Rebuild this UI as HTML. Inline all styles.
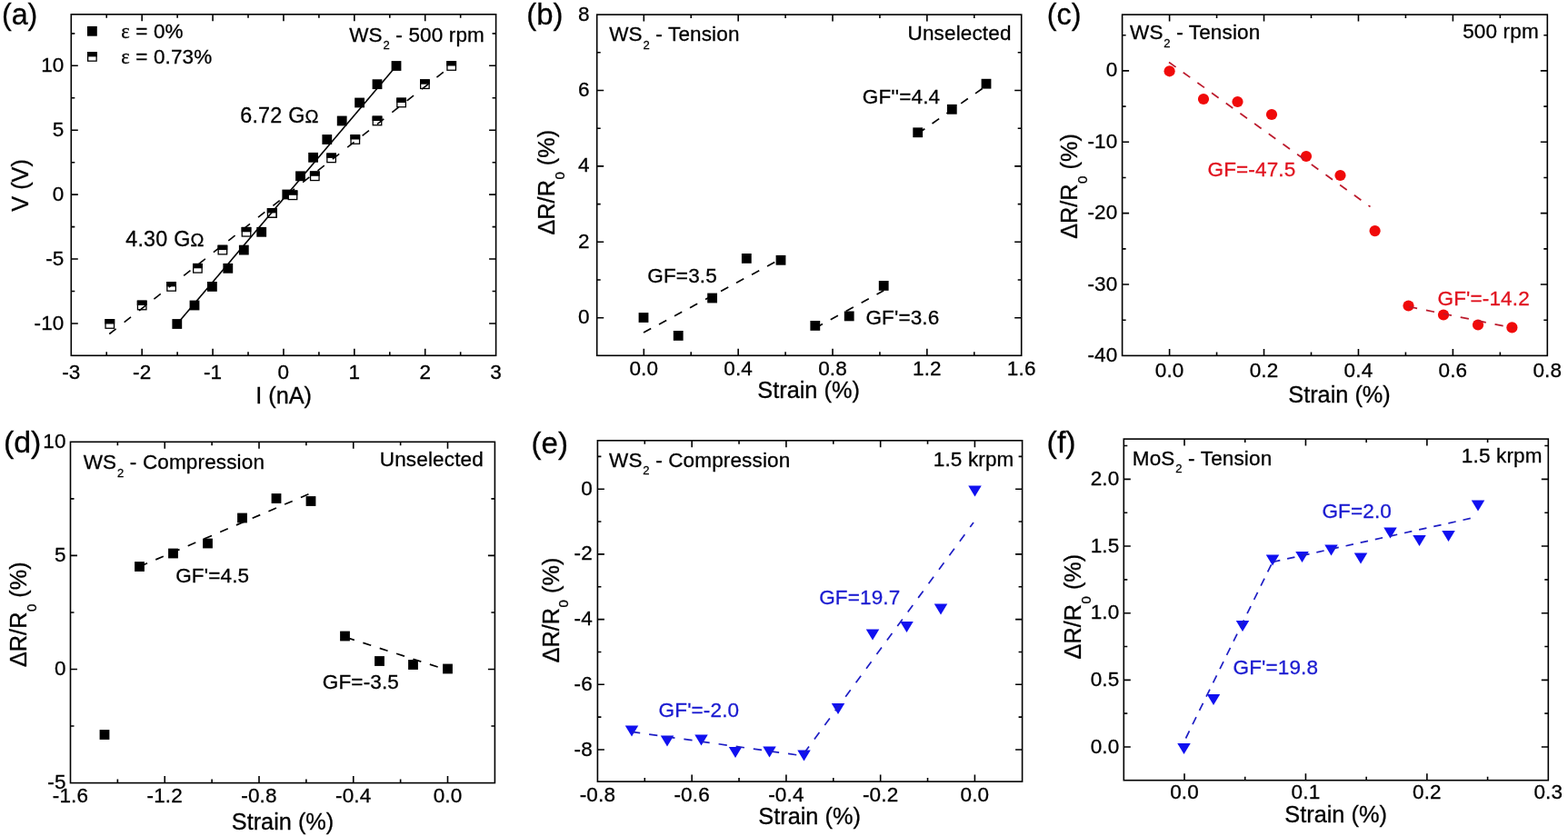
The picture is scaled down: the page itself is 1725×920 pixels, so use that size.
<!DOCTYPE html>
<html><head><meta charset="utf-8"><title>Figure</title>
<style>
html,body{margin:0;padding:0;background:#fff;}
body{width:1725px;height:920px;overflow:hidden;}
svg{display:block;}
text{font-family:"Liberation Sans",Arial,sans-serif;fill:#000;stroke:#000;stroke-width:0.3px;}
.t{letter-spacing:0.15px;}
.t{font-size:22.5px;}
.tt{font-size:25.3px;}
.pl{font-size:34px;}
.sb{font-size:13px;}
.sy{font-size:15px;}
.eps{font-family:"Liberation Serif","DejaVu Serif",serif;}
</style></head>
<body>
<svg width="1725" height="920" viewBox="0 0 1725 920">
<rect width="1725" height="920" fill="#fff"/>
<path d="M156.18 391.3v-7.5M156.18 15.8v7.5M234.07 391.3v-7.5M234.07 15.8v7.5M311.95 391.3v-7.5M311.95 15.8v7.5M389.83 391.3v-7.5M389.83 15.8v7.5M467.72 391.3v-7.5M467.72 15.8v7.5M117.24 391.3v-4M117.24 15.8v4M195.13 391.3v-4M195.13 15.8v4M273.01 391.3v-4M273.01 15.8v4M350.89 391.3v-4M350.89 15.8v4M428.78 391.3v-4M428.78 15.8v4M506.66 391.3v-4M506.66 15.8v4M78.3 356h7.5M545.6 356h-7.5M78.3 285.07h7.5M545.6 285.07h-7.5M78.3 214.15h7.5M545.6 214.15h-7.5M78.3 143.22h7.5M545.6 143.22h-7.5M78.3 72.3h7.5M545.6 72.3h-7.5M78.3 320.54h4M545.6 320.54h-4M78.3 249.61h4M545.6 249.61h-4M78.3 178.69h4M545.6 178.69h-4M78.3 107.76h4M545.6 107.76h-4M78.3 36.84h4M545.6 36.84h-4" stroke="#000" stroke-width="1.6" fill="none"/>
<rect x="78.3" y="15.8" width="467.3" height="375.5" fill="none" stroke="#000" stroke-width="1.6"/>
<text x="78.3" y="417" text-anchor="middle" class="t">-3</text>
<text x="156.18" y="417" text-anchor="middle" class="t">-2</text>
<text x="234.07" y="417" text-anchor="middle" class="t">-1</text>
<text x="311.95" y="417" text-anchor="middle" class="t">0</text>
<text x="389.83" y="417" text-anchor="middle" class="t">1</text>
<text x="467.72" y="417" text-anchor="middle" class="t">2</text>
<text x="545.6" y="417" text-anchor="middle" class="t">3</text>
<text x="70.5" y="78.8" text-anchor="end" class="t">10</text>
<text x="70.5" y="149.72" text-anchor="end" class="t">5</text>
<text x="70.5" y="220.65" text-anchor="end" class="t">0</text>
<text x="70.5" y="291.57" text-anchor="end" class="t">-5</text>
<text x="70.5" y="362.5" text-anchor="end" class="t">-10</text>
<text x="312.1" y="444.4" class="tt" text-anchor="middle">I (nA)</text>
<text transform="translate(30.5 203.9) rotate(-90)" text-anchor="middle" class="tt">V (V)</text>
<text x="1.9" y="27.2" class="pl" textLength="39.5" lengthAdjust="spacingAndGlyphs">(a)</text>
<rect x="189.4" y="351.1" width="10.8" height="10.8" fill="#000"/>
<rect x="208.6" y="330.6" width="10.8" height="10.8" fill="#000"/>
<rect x="228" y="310" width="10.8" height="10.8" fill="#000"/>
<rect x="245.4" y="289.9" width="10.8" height="10.8" fill="#000"/>
<rect x="262.9" y="269.7" width="10.8" height="10.8" fill="#000"/>
<rect x="282.3" y="249.9" width="10.8" height="10.8" fill="#000"/>
<rect x="294.1" y="229.1" width="10.8" height="10.8" fill="#000"/>
<rect x="310.4" y="208.6" width="10.8" height="10.8" fill="#000"/>
<rect x="325.1" y="188.4" width="10.8" height="10.8" fill="#000"/>
<rect x="339.2" y="167.9" width="10.8" height="10.8" fill="#000"/>
<rect x="354.4" y="148.1" width="10.8" height="10.8" fill="#000"/>
<rect x="370.8" y="127.6" width="10.8" height="10.8" fill="#000"/>
<rect x="390.2" y="107.6" width="10.8" height="10.8" fill="#000"/>
<rect x="409.6" y="87.3" width="10.8" height="10.8" fill="#000"/>
<rect x="430.6" y="67.1" width="10.8" height="10.8" fill="#000"/>
<rect x="116.05" y="351.75" width="9.5" height="9.5" fill="#fff" stroke="#000" stroke-width="1.3"/>
<rect x="115.4" y="351.1" width="10.8" height="5.4" fill="#000"/>
<rect x="151.45" y="331.25" width="9.5" height="9.5" fill="#fff" stroke="#000" stroke-width="1.3"/>
<rect x="150.8" y="330.6" width="10.8" height="5.4" fill="#000"/>
<rect x="183.85" y="310.65" width="9.5" height="9.5" fill="#fff" stroke="#000" stroke-width="1.3"/>
<rect x="183.2" y="310" width="10.8" height="5.4" fill="#000"/>
<rect x="212.65" y="290.55" width="9.5" height="9.5" fill="#fff" stroke="#000" stroke-width="1.3"/>
<rect x="212" y="289.9" width="10.8" height="5.4" fill="#000"/>
<rect x="240.15" y="270.35" width="9.5" height="9.5" fill="#fff" stroke="#000" stroke-width="1.3"/>
<rect x="239.5" y="269.7" width="10.8" height="5.4" fill="#000"/>
<rect x="266.25" y="250.55" width="9.5" height="9.5" fill="#fff" stroke="#000" stroke-width="1.3"/>
<rect x="265.6" y="249.9" width="10.8" height="5.4" fill="#000"/>
<rect x="294.45" y="229.65" width="9.5" height="9.5" fill="#fff" stroke="#000" stroke-width="1.3"/>
<rect x="293.8" y="229" width="10.8" height="5.4" fill="#000"/>
<rect x="317.25" y="210.05" width="9.5" height="9.5" fill="#fff" stroke="#000" stroke-width="1.3"/>
<rect x="316.6" y="209.4" width="10.8" height="5.4" fill="#000"/>
<rect x="341.55" y="189.05" width="9.5" height="9.5" fill="#fff" stroke="#000" stroke-width="1.3"/>
<rect x="340.9" y="188.4" width="10.8" height="5.4" fill="#000"/>
<rect x="359.85" y="169.15" width="9.5" height="9.5" fill="#fff" stroke="#000" stroke-width="1.3"/>
<rect x="359.2" y="168.5" width="10.8" height="5.4" fill="#000"/>
<rect x="386.05" y="148.75" width="9.5" height="9.5" fill="#fff" stroke="#000" stroke-width="1.3"/>
<rect x="385.4" y="148.1" width="10.8" height="5.4" fill="#000"/>
<rect x="410.25" y="128.25" width="9.5" height="9.5" fill="#fff" stroke="#000" stroke-width="1.3"/>
<rect x="409.6" y="127.6" width="10.8" height="5.4" fill="#000"/>
<rect x="436.85" y="108.25" width="9.5" height="9.5" fill="#fff" stroke="#000" stroke-width="1.3"/>
<rect x="436.2" y="107.6" width="10.8" height="5.4" fill="#000"/>
<rect x="462.65" y="87.95" width="9.5" height="9.5" fill="#fff" stroke="#000" stroke-width="1.3"/>
<rect x="462" y="87.3" width="10.8" height="5.4" fill="#000"/>
<rect x="491.95" y="67.75" width="9.5" height="9.5" fill="#fff" stroke="#000" stroke-width="1.3"/>
<rect x="491.3" y="67.1" width="10.8" height="5.4" fill="#000"/>
<path d="M194.8 356.5L436 72.5" stroke="#000" stroke-width="1.6" fill="none"/>
<path d="M120.3 367.5L496.7 72.5" stroke="#000" stroke-width="1.6" stroke-dasharray="9.3 11.5" fill="none"/>
<rect x="96" y="28.9" width="10.8" height="10.8" fill="#000"/>
<rect x="96.65" y="57.65" width="9.5" height="9.5" fill="#fff" stroke="#000" stroke-width="1.3"/>
<rect x="96" y="57" width="10.8" height="5.4" fill="#000"/>
<text x="133.2" y="41.8" class="t"><tspan class="eps">ε</tspan> = 0%</text>
<text x="133.2" y="70" class="t"><tspan class="eps">ε</tspan> = 0.73%</text>
<text x="384.2" y="45.8" class="t">WS<tspan class="sb" dx="0.8" dy="8.6">2</tspan><tspan dy="-8.6"> - 500 rpm</tspan></text>
<text x="264.3" y="135" class="t" style="font-size:23.3px">6.72 <tspan dx="0.3">G</tspan><tspan style="font-size:20px">Ω</tspan></text>
<text x="138.3" y="270.6" class="t" style="font-size:23.3px">4.30 <tspan dx="0.3">G</tspan><tspan style="font-size:20px">Ω</tspan></text>
<path d="M708.3 391.3v-7.5M708.3 16.1v7.5M812.15 391.3v-7.5M812.15 16.1v7.5M916 391.3v-7.5M916 16.1v7.5M1019.85 391.3v-7.5M1019.85 16.1v7.5M760.22 391.3v-4M760.22 16.1v4M864.08 391.3v-4M864.08 16.1v4M967.92 391.3v-4M967.92 16.1v4M1071.78 391.3v-4M1071.78 16.1v4M656.7 349.7h7.5M1123.7 349.7h-7.5M656.7 266.3h7.5M1123.7 266.3h-7.5M656.7 182.9h7.5M1123.7 182.9h-7.5M656.7 99.5h7.5M1123.7 99.5h-7.5M656.7 308h4M1123.7 308h-4M656.7 224.6h4M1123.7 224.6h-4M656.7 141.2h4M1123.7 141.2h-4M656.7 57.8h4M1123.7 57.8h-4" stroke="#000" stroke-width="1.6" fill="none"/>
<rect x="656.7" y="16.1" width="467" height="375.2" fill="none" stroke="#000" stroke-width="1.6"/>
<text x="708.3" y="412.6" text-anchor="middle" class="t">0.0</text>
<text x="812.15" y="412.6" text-anchor="middle" class="t">0.4</text>
<text x="916" y="412.6" text-anchor="middle" class="t">0.8</text>
<text x="1019.85" y="412.6" text-anchor="middle" class="t">1.2</text>
<text x="1123.7" y="412.6" text-anchor="middle" class="t">1.6</text>
<text x="648.6" y="356.2" text-anchor="end" class="t">0</text>
<text x="648.6" y="272.8" text-anchor="end" class="t">2</text>
<text x="648.6" y="189.4" text-anchor="end" class="t">4</text>
<text x="648.6" y="106" text-anchor="end" class="t">6</text>
<text x="648.6" y="22.6" text-anchor="end" class="t">8</text>
<text x="889.6" y="437.9" class="tt" text-anchor="middle">Strain (%)</text>
<text transform="translate(610 200.7) rotate(-90)" text-anchor="middle" class="tt">ΔR/R<tspan class="sy" dx="0.5" dy="10.5">0</tspan><tspan dy="-10.5"> (%)</tspan></text>
<text x="579.3" y="27.2" class="pl" textLength="40.2" lengthAdjust="spacingAndGlyphs">(b)</text>
<rect x="702.6" y="344.1" width="10.8" height="10.8" fill="#000"/>
<rect x="740.8" y="364" width="10.8" height="10.8" fill="#000"/>
<rect x="778.2" y="322.6" width="10.8" height="10.8" fill="#000"/>
<rect x="815.9" y="279" width="10.8" height="10.8" fill="#000"/>
<rect x="853.6" y="280.9" width="10.8" height="10.8" fill="#000"/>
<rect x="891.4" y="353" width="10.8" height="10.8" fill="#000"/>
<rect x="928.8" y="342.5" width="10.8" height="10.8" fill="#000"/>
<rect x="966.8" y="309" width="10.8" height="10.8" fill="#000"/>
<rect x="1004.3" y="140.4" width="10.8" height="10.8" fill="#000"/>
<rect x="1041.9" y="114.9" width="10.8" height="10.8" fill="#000"/>
<rect x="1079.6" y="86.8" width="10.8" height="10.8" fill="#000"/>
<path d="M708 366L859 285" stroke="#000" stroke-width="1.7" stroke-dasharray="9.3 10" fill="none"/>
<path d="M896.8 361L972.2 319.8" stroke="#000" stroke-width="1.7" stroke-dasharray="9.3 10" fill="none"/>
<path d="M1009.7 147L1085 94.5" stroke="#000" stroke-width="1.7" stroke-dasharray="9.3 10" fill="none"/>
<text x="670.2" y="45.2" class="t">WS<tspan class="sb" dx="0.8" dy="8.6">2</tspan><tspan dy="-8.6"> - Tension</tspan></text>
<text x="1112.6" y="43.6" class="t" text-anchor="end">Unselected</text>
<text x="712.3" y="311.4" class="t">GF=3.5</text>
<text x="952.4" y="356.6" class="t">GF'=3.6</text>
<text x="948.8" y="113.9" class="t">GF''=4.4</text>
<path d="M1286.6 391.4v-7.5M1286.6 16.1v7.5M1390.52 391.4v-7.5M1390.52 16.1v7.5M1494.45 391.4v-7.5M1494.45 16.1v7.5M1598.38 391.4v-7.5M1598.38 16.1v7.5M1338.56 391.4v-4M1338.56 16.1v4M1442.49 391.4v-4M1442.49 16.1v4M1546.41 391.4v-4M1546.41 16.1v4M1650.34 391.4v-4M1650.34 16.1v4M1234.6 313.02h7.5M1702.3 313.02h-7.5M1234.6 234.65h7.5M1702.3 234.65h-7.5M1234.6 156.28h7.5M1702.3 156.28h-7.5M1234.6 77.9h7.5M1702.3 77.9h-7.5M1234.6 352.21h4M1702.3 352.21h-4M1234.6 273.84h4M1702.3 273.84h-4M1234.6 195.46h4M1702.3 195.46h-4M1234.6 117.09h4M1702.3 117.09h-4M1234.6 38.71h4M1702.3 38.71h-4" stroke="#000" stroke-width="1.6" fill="none"/>
<rect x="1234.6" y="16.1" width="467.7" height="375.3" fill="none" stroke="#000" stroke-width="1.6"/>
<text x="1286.6" y="415.3" text-anchor="middle" class="t">0.0</text>
<text x="1390.52" y="415.3" text-anchor="middle" class="t">0.2</text>
<text x="1494.45" y="415.3" text-anchor="middle" class="t">0.4</text>
<text x="1598.38" y="415.3" text-anchor="middle" class="t">0.6</text>
<text x="1702.3" y="415.3" text-anchor="middle" class="t">0.8</text>
<text x="1229.4" y="84.4" text-anchor="end" class="t">0</text>
<text x="1229.4" y="162.78" text-anchor="end" class="t">-10</text>
<text x="1229.4" y="241.15" text-anchor="end" class="t">-20</text>
<text x="1229.4" y="319.52" text-anchor="end" class="t">-30</text>
<text x="1229.4" y="397.9" text-anchor="end" class="t">-40</text>
<text x="1473.5" y="443.4" class="tt" text-anchor="middle">Strain (%)</text>
<text transform="translate(1185.4 205) rotate(-90)" text-anchor="middle" class="tt">ΔR/R<tspan class="sy" dx="0.5" dy="10.5">0</tspan><tspan dy="-10.5"> (%)</tspan></text>
<text x="1151.8" y="27.2" class="pl" textLength="37.7" lengthAdjust="spacingAndGlyphs">(c)</text>
<circle cx="1286.6" cy="78.3" r="6.1" fill="#f00a0a"/>
<circle cx="1324" cy="109" r="6.1" fill="#f00a0a"/>
<circle cx="1361.5" cy="112" r="6.1" fill="#f00a0a"/>
<circle cx="1399" cy="126" r="6.1" fill="#f00a0a"/>
<circle cx="1437" cy="172" r="6.1" fill="#f00a0a"/>
<circle cx="1474.5" cy="193" r="6.1" fill="#f00a0a"/>
<circle cx="1512.6" cy="254.1" r="6.1" fill="#f00a0a"/>
<circle cx="1549.5" cy="336.5" r="6.1" fill="#f00a0a"/>
<circle cx="1588" cy="346.5" r="6.1" fill="#f00a0a"/>
<circle cx="1626" cy="357.5" r="6.1" fill="#f00a0a"/>
<circle cx="1663.4" cy="360.4" r="6.1" fill="#f00a0a"/>
<path d="M1286 68.5L1507.5 227.5" stroke="#bc1a2c" stroke-width="1.7" stroke-dasharray="9.3 10" fill="none"/>
<path d="M1550 337.5L1665 361" stroke="#bc1a2c" stroke-width="1.7" stroke-dasharray="9.3 10" fill="none"/>
<text x="1243" y="42.9" class="t">WS<tspan class="sb" dx="0.8" dy="8.6">2</tspan><tspan dy="-8.6"> - Tension</tspan></text>
<text x="1692.8" y="42.2" class="t" text-anchor="end">500 rpm</text>
<text x="1328.5" y="194.3" class="t" style="fill:#e0121e;stroke:#e0121e">GF=-47.5</text>
<text x="1581.5" y="335.7" class="t" style="fill:#e0121e;stroke:#e0121e">GF'=-14.2</text>
<path d="M181.25 861.6v-7.5M181.25 486.3v7.5M285 861.6v-7.5M285 486.3v7.5M388.75 861.6v-7.5M388.75 486.3v7.5M492.5 861.6v-7.5M492.5 486.3v7.5M129.38 861.6v-4M129.38 486.3v4M233.12 861.6v-4M233.12 486.3v4M336.88 861.6v-4M336.88 486.3v4M440.62 861.6v-4M440.62 486.3v4M77.5 736.5h7.5M544.4 736.5h-7.5M77.5 611.4h7.5M544.4 611.4h-7.5M77.5 799.05h4M544.4 799.05h-4M77.5 673.95h4M544.4 673.95h-4M77.5 548.85h4M544.4 548.85h-4" stroke="#000" stroke-width="1.6" fill="none"/>
<rect x="77.5" y="486.3" width="466.9" height="375.3" fill="none" stroke="#000" stroke-width="1.6"/>
<text x="77.5" y="883" text-anchor="middle" class="t">-1.6</text>
<text x="181.25" y="883" text-anchor="middle" class="t">-1.2</text>
<text x="285" y="883" text-anchor="middle" class="t">-0.8</text>
<text x="388.75" y="883" text-anchor="middle" class="t">-0.4</text>
<text x="492.5" y="883" text-anchor="middle" class="t">0.0</text>
<text x="72.6" y="492.8" text-anchor="end" class="t">10</text>
<text x="72.6" y="617.9" text-anchor="end" class="t">5</text>
<text x="72.6" y="743" text-anchor="end" class="t">0</text>
<text x="72.6" y="868.1" text-anchor="end" class="t">-5</text>
<text x="311" y="913.3" class="tt" text-anchor="middle">Strain (%)</text>
<text transform="translate(29 676.2) rotate(-90)" text-anchor="middle" class="tt">ΔR/R<tspan class="sy" dx="0.5" dy="10.5">0</tspan><tspan dy="-10.5"> (%)</tspan></text>
<text x="3.9" y="498.4" class="pl">(d)</text>
<rect x="109.6" y="803.1" width="10.8" height="10.8" fill="#000"/>
<rect x="148.1" y="618.1" width="10.8" height="10.8" fill="#000"/>
<rect x="185.1" y="603.6" width="10.8" height="10.8" fill="#000"/>
<rect x="223.1" y="592.6" width="10.8" height="10.8" fill="#000"/>
<rect x="261.1" y="564.6" width="10.8" height="10.8" fill="#000"/>
<rect x="298.6" y="543.1" width="10.8" height="10.8" fill="#000"/>
<rect x="336.6" y="546.1" width="10.8" height="10.8" fill="#000"/>
<rect x="374.1" y="694.6" width="10.8" height="10.8" fill="#000"/>
<rect x="412.1" y="722.1" width="10.8" height="10.8" fill="#000"/>
<rect x="449.1" y="726.1" width="10.8" height="10.8" fill="#000"/>
<rect x="487.1" y="730.6" width="10.8" height="10.8" fill="#000"/>
<path d="M153.5 623.5L342.5 542.5" stroke="#000" stroke-width="1.7" stroke-dasharray="9.3 10" fill="none"/>
<path d="M381 701.5L492.5 737.5" stroke="#000" stroke-width="1.7" stroke-dasharray="9.3 10" fill="none"/>
<text x="91.7" y="516.4" class="t">WS<tspan class="sb" dx="0.8" dy="8.6">2</tspan><tspan dy="-8.6"> - Compression</tspan></text>
<text x="531.9" y="513.2" class="t" text-anchor="end">Unselected</text>
<text x="193.2" y="641.1" class="t">GF'=4.5</text>
<text x="354.8" y="757.7" class="t">GF=-3.5</text>
<path d="M761.15 860.1v-7.5M761.15 484.8v7.5M864.9 860.1v-7.5M864.9 484.8v7.5M968.65 860.1v-7.5M968.65 484.8v7.5M1072.4 860.1v-7.5M1072.4 484.8v7.5M709.28 860.1v-4M709.28 484.8v4M813.03 860.1v-4M813.03 484.8v4M916.78 860.1v-4M916.78 484.8v4M1020.53 860.1v-4M1020.53 484.8v4M657.4 825h7.5M1124.6 825h-7.5M657.4 753.3h7.5M1124.6 753.3h-7.5M657.4 681.6h7.5M1124.6 681.6h-7.5M657.4 609.9h7.5M1124.6 609.9h-7.5M657.4 538.2h7.5M1124.6 538.2h-7.5M657.4 789.15h4M1124.6 789.15h-4M657.4 717.45h4M1124.6 717.45h-4M657.4 645.75h4M1124.6 645.75h-4M657.4 574.05h4M1124.6 574.05h-4M657.4 502.35h4M1124.6 502.35h-4" stroke="#000" stroke-width="1.6" fill="none"/>
<rect x="657.4" y="484.8" width="467.2" height="375.3" fill="none" stroke="#000" stroke-width="1.6"/>
<text x="657.4" y="881.5" text-anchor="middle" class="t">-0.8</text>
<text x="761.15" y="881.5" text-anchor="middle" class="t">-0.6</text>
<text x="864.9" y="881.5" text-anchor="middle" class="t">-0.4</text>
<text x="968.65" y="881.5" text-anchor="middle" class="t">-0.2</text>
<text x="1072.4" y="881.5" text-anchor="middle" class="t">0.0</text>
<text x="651.8" y="544.7" text-anchor="end" class="t">0</text>
<text x="651.8" y="616.4" text-anchor="end" class="t">-2</text>
<text x="651.8" y="688.1" text-anchor="end" class="t">-4</text>
<text x="651.8" y="759.8" text-anchor="end" class="t">-6</text>
<text x="651.8" y="831.5" text-anchor="end" class="t">-8</text>
<text x="890.6" y="906.7" class="tt" text-anchor="middle">Strain (%)</text>
<text transform="translate(614.8 671.5) rotate(-90)" text-anchor="middle" class="tt">ΔR/R<tspan class="sy" dx="0.5" dy="10.5">0</tspan><tspan dy="-10.5"> (%)</tspan></text>
<text x="584.5" y="498.5" class="pl" textLength="40.4" lengthAdjust="spacingAndGlyphs">(e)</text>
<path d="M687.75 798.5h14.5l-7.25 12z" fill="#1010f0"/>
<path d="M726.75 809.5h14.5l-7.25 12z" fill="#1010f0"/>
<path d="M764.25 808.5h14.5l-7.25 12z" fill="#1010f0"/>
<path d="M801.75 822h14.5l-7.25 12z" fill="#1010f0"/>
<path d="M839.25 821.5h14.5l-7.25 12z" fill="#1010f0"/>
<path d="M877.25 825.5h14.5l-7.25 12z" fill="#1010f0"/>
<path d="M914.75 774h14.5l-7.25 12z" fill="#1010f0"/>
<path d="M952.75 692.5h14.5l-7.25 12z" fill="#1010f0"/>
<path d="M990.25 684h14.5l-7.25 12z" fill="#1010f0"/>
<path d="M1027.75 664.5h14.5l-7.25 12z" fill="#1010f0"/>
<path d="M1065.25 534.5h14.5l-7.25 12z" fill="#1010f0"/>
<path d="M695 805.4L884.5 831.9" stroke="#1e1ec4" stroke-width="1.7" stroke-dasharray="9.3 10" fill="none"/>
<path d="M884.5 829L1071 575" stroke="#1e1ec4" stroke-width="1.7" stroke-dasharray="9.3 10" fill="none"/>
<text x="670" y="513.7" class="t">WS<tspan class="sb" dx="0.8" dy="8.6">2</tspan><tspan dy="-8.6"> - Compression</tspan></text>
<text x="1115.5" y="512.7" class="t" text-anchor="end">1.5 krpm</text>
<text x="901.2" y="664.6" class="t" style="fill:#1a1ad0;stroke:#1a1ad0">GF=19.7</text>
<text x="724.6" y="789.3" class="t" style="fill:#1a1ad0;stroke:#1a1ad0">GF'=-2.0</text>
<path d="M1303 858.7v-7.5M1303 483.1v7.5M1436.43 858.7v-7.5M1436.43 483.1v7.5M1569.87 858.7v-7.5M1569.87 483.1v7.5M1369.72 858.7v-4M1369.72 483.1v4M1503.15 858.7v-4M1503.15 483.1v4M1636.58 858.7v-4M1636.58 483.1v4M1236.3 822h7.5M1703.3 822h-7.5M1236.3 748.35h7.5M1703.3 748.35h-7.5M1236.3 674.7h7.5M1703.3 674.7h-7.5M1236.3 601.05h7.5M1703.3 601.05h-7.5M1236.3 527.4h7.5M1703.3 527.4h-7.5M1236.3 785.17h4M1703.3 785.17h-4M1236.3 711.52h4M1703.3 711.52h-4M1236.3 637.88h4M1703.3 637.88h-4M1236.3 564.22h4M1703.3 564.22h-4M1236.3 490.57h4M1703.3 490.57h-4" stroke="#000" stroke-width="1.6" fill="none"/>
<rect x="1236.3" y="483.1" width="467" height="375.6" fill="none" stroke="#000" stroke-width="1.6"/>
<text x="1303" y="879.3" text-anchor="middle" class="t">0.0</text>
<text x="1436.43" y="879.3" text-anchor="middle" class="t">0.1</text>
<text x="1569.87" y="879.3" text-anchor="middle" class="t">0.2</text>
<text x="1703.3" y="879.3" text-anchor="middle" class="t">0.3</text>
<text x="1231.4" y="828.5" text-anchor="end" class="t">0.0</text>
<text x="1231.4" y="754.85" text-anchor="end" class="t">0.5</text>
<text x="1231.4" y="681.2" text-anchor="end" class="t">1.0</text>
<text x="1231.4" y="607.55" text-anchor="end" class="t">1.5</text>
<text x="1231.4" y="533.9" text-anchor="end" class="t">2.0</text>
<text x="1469.6" y="904.6" class="tt" text-anchor="middle">Strain (%)</text>
<text transform="translate(1189 667.6) rotate(-90)" text-anchor="middle" class="tt">ΔR/R<tspan class="sy" dx="0.5" dy="10.5">0</tspan><tspan dy="-10.5"> (%)</tspan></text>
<text x="1151.6" y="498.4" class="pl">(f)</text>
<path d="M1295.25 818h14.5l-7.25 12z" fill="#1010f0"/>
<path d="M1327.75 764h14.5l-7.25 12z" fill="#1010f0"/>
<path d="M1359.75 683h14.5l-7.25 12z" fill="#1010f0"/>
<path d="M1392.75 610.5h14.5l-7.25 12z" fill="#1010f0"/>
<path d="M1425.25 607h14.5l-7.25 12z" fill="#1010f0"/>
<path d="M1457.25 599.5h14.5l-7.25 12z" fill="#1010f0"/>
<path d="M1489.75 608.5h14.5l-7.25 12z" fill="#1010f0"/>
<path d="M1522.25 580.5h14.5l-7.25 12z" fill="#1010f0"/>
<path d="M1554.25 589h14.5l-7.25 12z" fill="#1010f0"/>
<path d="M1586.25 584h14.5l-7.25 12z" fill="#1010f0"/>
<path d="M1618.75 550.5h14.5l-7.25 12z" fill="#1010f0"/>
<path d="M1304.5 812.5L1400 618.5" stroke="#1e1ec4" stroke-width="1.7" stroke-dasharray="9 8" fill="none"/>
<path d="M1400 618.5L1622 569.5" stroke="#1e1ec4" stroke-width="1.7" stroke-dasharray="8.5 8" fill="none"/>
<text x="1245.8" y="511.6" class="t">MoS<tspan class="sb" dx="0.8" dy="8.6">2</tspan><tspan dy="-8.6"> - Tension</tspan></text>
<text x="1696.6" y="509" class="t" text-anchor="end">1.5 krpm</text>
<text x="1454.4" y="570.2" class="t" style="fill:#1a1ad0;stroke:#1a1ad0">GF=2.0</text>
<text x="1356.5" y="742.1" class="t" style="fill:#1a1ad0;stroke:#1a1ad0">GF'=19.8</text>
</svg>
</body></html>
